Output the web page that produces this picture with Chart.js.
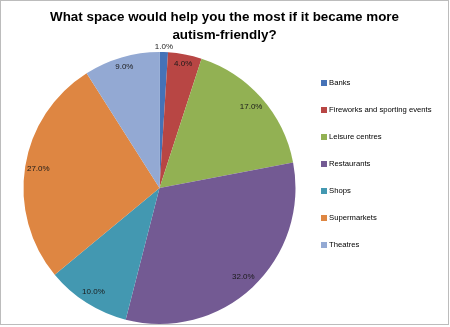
<!DOCTYPE html>
<html>
<head>
<meta charset="utf-8">
<script src="https://cdn.jsdelivr.net/npm/chart.js@4"></script>
<style>
  body { margin: 0; background: #fff; }
  #frame { position: relative; width: 447px; height: 323px; border: 1px solid #bcbcbc; overflow: hidden; }
  #chartBox { position: absolute; left: 0; top: 0; width: 447px; height: 323px; }
  #title { position: absolute; left: 0; top: 0; width: 447px; padding-top: 7px; text-align: center;
           font: bold 13.4px "Liberation Sans", Arial, sans-serif; line-height: 18px; color: #000; }
  #legend { position: absolute; left: 320px; top: 68px; font: 7.7px "Liberation Sans", Arial, sans-serif; color: #000; }
  .item { height: 27px; display: flex; align-items: center; white-space: nowrap; }
  .swatch { width: 6px; height: 6px; margin-right: 2px; }
</style>
</head>
<body>
<div id="frame">
  <div id="chartBox"><canvas id="pie" width="447" height="323"></canvas></div>
  <div id="title">What space would help you the most if it became more<br>autism-friendly?</div>
  <div id="legend"></div>
</div>
<script>
const categories = ['Banks', 'Fireworks and sporting events', 'Leisure centres', 'Restaurants', 'Shops', 'Supermarkets', 'Theatres'];
const shares = [1.0, 4.0, 17.0, 32.0, 10.0, 27.0, 9.0];
const colors = ['#4572b7', '#b84644', '#92b153', '#735a93', '#4398b1', '#de8642', '#93a9d3'];

// legend drawn as html next to the pie
const legend = document.getElementById('legend');
categories.forEach((name, i) => {
    let row = document.createElement('div');
    row.classList.add('item');
    let sw = document.createElement('span');
    sw.classList.add('swatch');
    sw.style.background = colors[i];
    row.append(sw, document.createTextNode(name));
    legend.append(row);
});

// percentage labels, "inside end" like excel, pushed outside when the slice is too thin
const insideEndLabels = {
    id: 'insideEndLabels',
    afterDatasetsDraw(chart) {
        const ctx = chart.ctx;
        const meta = chart.getDatasetMeta(0);
        ctx.save();
        ctx.font = '8px "Liberation Sans", Arial, sans-serif';
        ctx.fillStyle = '#1a1a1a';
        ctx.textAlign = 'center';
        ctx.textBaseline = 'middle';
        meta.data.forEach((arc, i) => {
            const { x, y, startAngle, endAngle, outerRadius } = arc.getProps(['x', 'y', 'startAngle', 'endAngle', 'outerRadius'], true);
            const text = shares[i].toFixed(1) + '%';
            const mid = (startAngle + endAngle) / 2;
            const c = Math.abs(Math.cos(mid)), s = Math.abs(Math.sin(mid));
            const A = ctx.measureText(text).width / 2, B = 6.5;
            const R = outerRadius - 1;
            const k = c * A + s * B;
            let d = -k + Math.sqrt(k * k - (A * A + B * B) + R * R);
            // do all box corners stay in the wedge?
            let fits = true;
            const lx = x + d * Math.cos(mid), ly = y + d * Math.sin(mid);
            [[-A, -B], [A, -B], [-A, B], [A, B]].forEach(([ox, oy]) => {
                let a = Math.atan2(ly + oy - y, lx + ox - x);
                while (a < startAngle) a += Math.PI * 2;
                while (a > startAngle + Math.PI * 2) a -= Math.PI * 2;
                if (a > endAngle) fits = false;
            });
            if (!fits) d = outerRadius + 1 + c * A + s * 4;
            ctx.fillText(text, x + d * Math.cos(mid), y + d * Math.sin(mid));
        });
        ctx.restore();
    }
};

const chart = new Chart(document.getElementById('pie'), {
    type: 'pie',
    data: {
        labels: categories,
        datasets: [{
            data: shares,
            backgroundColor: colors,
            borderWidth: 0
        }]
    },
    plugins: [insideEndLabels],
    options: {
        responsive: false,
        animation: false,
        layout: { padding: { left: 22, right: 152, top: 51, bottom: 0 } },
        plugins: {
            legend: { display: false },
            title: { display: false },
            tooltip: { enabled: false }
        }
    }
});
</script>
</body>
</html>
